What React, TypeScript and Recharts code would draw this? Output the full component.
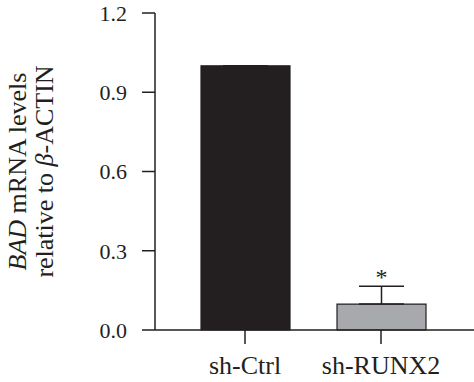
import React from "react";
import {
  BarChart,
  Bar,
  XAxis,
  YAxis,
  ErrorBar,
  LabelList,
  Cell,
} from "recharts";

// 棒グラフの値
const groups = ["sh-Ctrl", "sh-RUNX2"];
const meanValues = [1.0, 0.098];
const errorUpper = [0, 0.068];
const significance = ["", "*"];
const yTicks = [0, 0.3, 0.6, 0.9, 1.2];

const barFills = ["#231f20", "#a7a9ac"];
const ink = "#231f20";
const font = "'Liberation Serif', 'Times New Roman', serif";

const chartData = groups.map((g, i) => ({
  group: g,
  value: meanValues[i],
  err: [0, errorUpper[i]],
  sig: significance[i],
}));

if (typeof document !== "undefined") {
  document.body.style.margin = "0";
}

function AxisTitle(props: any) {
  const vb = props.viewBox || {};
  const cy = (vb.y ?? 0) + (vb.height ?? 0) / 2;
  const x = 26;
  return (
    <text
      x={x}
      y={cy}
      transform={`rotate(-90, ${x}, ${cy})`}
      textAnchor="middle"
      fontFamily={font}
      fontSize={26}
      fill={ink}
    >
      <tspan x={x} dy={0}>
        <tspan fontStyle="italic">BAD</tspan> mRNA levels
      </tspan>
      <tspan x={x} dy={27}>
        relative to <tspan fontStyle="italic">β</tspan>-ACTIN
      </tspan>
    </text>
  );
}

function StarLabel(props: any) {
  const { x, y, width, value } = props;
  if (!value) return null;
  return (
    <text
      x={x + width / 2}
      y={y - 19}
      textAnchor="middle"
      fontFamily={font}
      fontSize={24}
      fill={ink}
    >
      {value}
    </text>
  );
}

export default function App() {
  return (
    <BarChart
      width={474}
      height={382}
      data={chartData}
      margin={{ top: 13, right: 0, left: 0, bottom: 0 }}
    >
      <XAxis
        dataKey="group"
        height={52}
        padding={{ left: 22, right: 25 }}
        stroke={ink}
        strokeWidth={1.5}
        tickSize={14}
        tickMargin={12}
        tick={{ fill: ink, fontSize: 26, fontFamily: font }}
      />
      <YAxis
        width={155}
        domain={[0, 1.2]}
        ticks={yTicks}
        tickFormatter={(v: number) => v.toFixed(1)}
        stroke={ink}
        strokeWidth={1.5}
        tickSize={13}
        tickMargin={15}
        tick={{ fill: ink, fontSize: 22, fontFamily: font }}
        label={{ content: AxisTitle }}
      />
      <Bar
        dataKey="value"
        barSize={89}
        stroke={ink}
        strokeWidth={1.2}
        isAnimationActive={false}
      >
        {chartData.map((d, i) => (
          <Cell key={`cell-${i}`} fill={barFills[i]} />
        ))}
        <ErrorBar
          dataKey="err"
          width={22.5}
          stroke={ink}
          strokeWidth={1.5}
          direction="y"
        />
        <LabelList dataKey="sig" content={StarLabel} />
      </Bar>
    </BarChart>
  );
}
